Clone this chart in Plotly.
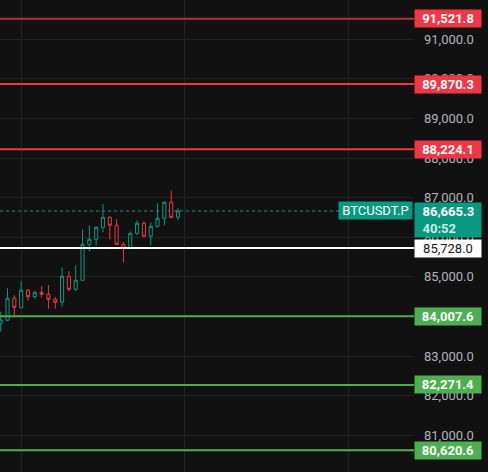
import plotly.graph_objects as go

# ---- data ----
candle_index = list(range(27))
opens = [83828, 83904, 84460, 84222, 84662, 84500, 84611, 84561, 84434, 84359,
         85015, 84687, 84914, 85823, 85949, 86252, 86505, 86303, 85823, 85722,
         86101, 86354, 86025, 86278, 86480, 86884, 86505]
highs = [84121, 84712, 84535, 84889, 84694, 84644, 84770, 84795, 84492, 85242,
         85149, 85293, 86202, 86303, 86285, 86841, 86530, 86455, 85874, 86151,
         86429, 86404, 86379, 86859, 86909, 87187, 86732]
lows = [83616, 83890, 83980, 84207, 84399, 84449, 84475, 84197, 84197, 84247,
        84636, 84636, 84900, 85646, 85793, 86126, 85949, 85810, 85369, 85710,
        86050, 86015, 85798, 86252, 86303, 86480, 86429]
closes = [83912, 84460, 84232, 84662, 84500, 84611, 84561, 84434, 84359, 85015,
          84687, 84914, 85823, 85949, 86252, 86505, 86303, 85823, 85722, 86101,
          86354, 86025, 86278, 86480, 86884, 86505, 86665.3]

level_values = [91521.8, 89870.3, 88224.1, 85728.0, 84007.6, 82271.4, 80620.6]
level_box_colors = ["#F23645", "#F23645", "#F23645", "#FFFFFF", "#4CAF50", "#4CAF50", "#4CAF50"]
level_line_colors = ["#B8303B", "#F23645", "#F23645", "#FFFFFF", "#4CAF50", "#4CAF50", "#4CAF50"]
level_text_colors = ["#FFFFFF", "#FFFFFF", "#FFFFFF", "#131722", "#FFFFFF", "#FFFFFF", "#FFFFFF"]
level_text_weights = ["bold", "bold", "bold", "normal", "bold", "bold", "bold"]

symbol = "BTCUSDT.P"
last_price = 86665.3
countdown = "40:52"
edge_ticks = [92000, 80000]

BG = "#111111"
GRID = "#242424"
UP = "#089981"
DOWN = "#F23645"
FONT = "Roboto"

fig = go.Figure()
fig.add_trace(go.Candlestick(
    x=candle_index, open=opens, high=highs, low=lows, close=closes,
    increasing=dict(line=dict(color=UP, width=1), fillcolor=BG),
    decreasing=dict(line=dict(color=DOWN, width=1), fillcolor=BG),
    whiskerwidth=0, showlegend=False, hoverinfo="skip",
))

shapes = []
# last price dotted line
shapes.append(dict(type="line", xref="paper", x0=0, x1=340 / 414, yref="y",
                   y0=last_price, y1=last_price, layer="between",
                   line=dict(color=UP, width=1, dash="dot")))
for v, c in zip(level_values, level_line_colors):
    shapes.append(dict(type="line", xref="paper", x0=0, x1=1, yref="y", y0=v, y1=v,
                       layer="above", line=dict(color=c, width=2)))

annotations = []
for t in edge_ticks:
    annotations.append(dict(xref="paper", x=1, xanchor="left", xshift=9, yref="y", y=t,
                            yanchor="middle", showarrow=False, text=f"{t:,.1f}",
                            font=dict(family=FONT, size=13, color="#B2B5BE")))
for v, bc, tc, w in zip(level_values, level_box_colors, level_text_colors, level_text_weights):
    annotations.append(dict(xref="paper", x=1, xanchor="left", yref="y", y=v,
                            yanchor="middle", showarrow=False, text=f"{v:,.1f}",
                            bgcolor=bc, borderpad=1, width=64, align="center",
                            font=dict(family=FONT, size=13, color=tc, weight=w)))
annotations.append(dict(xref="paper", x=1, xanchor="left", yref="y", y=last_price,
                        yanchor="top", yshift=9, showarrow=False,
                        text=(f"&nbsp;&nbsp;{last_price:,.1f}<br>"
                              f"<span style='color:#CDEBE5'>&nbsp;&nbsp;{countdown}</span>"),
                        bgcolor=UP, borderpad=1, width=64, align="left",
                        font=dict(family=FONT, size=13, color="#FFFFFF", weight="bold")))
annotations.append(dict(xref="paper", x=1, xanchor="right", xshift=-1.5, yref="y", y=last_price,
                        yanchor="middle", showarrow=False, text=symbol,
                        bgcolor=UP, borderpad=1, width=71, align="center",
                        font=dict(family=FONT, size=13, color="#FFFFFF")))

fig.update_layout(
    width=488, height=472,
    margin=dict(l=0, r=74, t=0, b=0),
    paper_bgcolor=BG, plot_bgcolor=BG,
    boxgap=0.35,
    shapes=shapes, annotations=annotations,
    xaxis=dict(range=[-0.1, 60.6], showticklabels=False, tick0=3, dtick=24,
               showgrid=True, gridcolor=GRID, gridwidth=1, zeroline=False,
               showline=False, rangeslider=dict(visible=False), fixedrange=True),
    yaxis=dict(side="right", range=[80073.2, 91992.4], tick0=0, dtick=1000,
               tickformat=",.1f", showgrid=True, gridcolor=GRID, gridwidth=1,
               zeroline=False, showline=False, ticks="", ticklabelstandoff=9,
               tickfont=dict(family=FONT, size=13, color="#B2B5BE"), fixedrange=True),
)

fig.write_html("out.html", config={"displayModeBar": False},
               post_script="document.body.style.margin='0';document.body.style.background='#111111';")
